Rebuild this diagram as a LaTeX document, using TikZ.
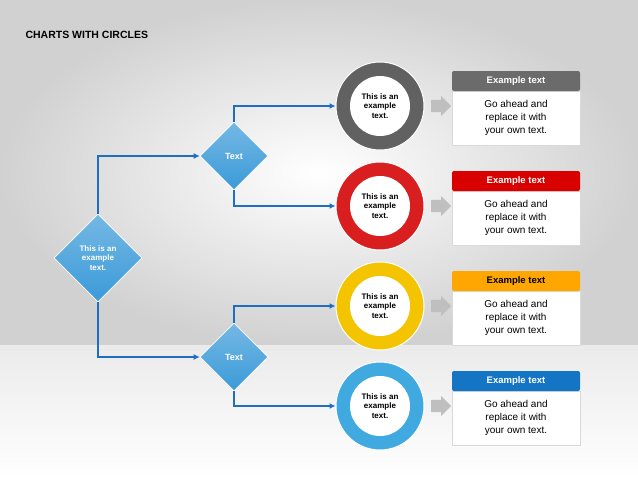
\documentclass[tikz,border=0pt]{standalone}
\usepackage{fontspec}
\setmainfont{Liberation Sans}
\usetikzlibrary{shapes.geometric, shapes.arrows, arrows.meta}

\definecolor{flowblue}{HTML}{1F6FC0}
\definecolor{diablue}{HTML}{3A9AD8}
\definecolor{ringgray}{HTML}{616161}
\definecolor{ringred}{HTML}{D81E1E}
\definecolor{ringyellow}{HTML}{F5C400}
\definecolor{ringblue}{HTML}{3FA9E0}

\tikzset{
  dia/.style={diamond, aspect=1, inner sep=0pt, minimum size=#1,
    top color=diablue!70, bottom color=diablue, draw=white, line width=0.6pt,
    text=white, font=\bfseries\fontsize{8}{9.5}\selectfont, align=center},
  flow/.style={flowblue, line width=1.6pt, -{Latex[length=6pt,width=6pt]}},
  ring/.style={circle, minimum size=88pt, draw=white, line width=1pt, fill=#1},
  hole/.style={circle, minimum size=60pt, fill=white, inner sep=0pt,
    font=\bfseries\fontsize{8}{9.5}\selectfont, align=center},
  pointer/.style={single arrow, fill=black!25, minimum height=20pt, minimum width=20pt,
    single arrow head extend=2pt, inner sep=3pt},
  head/.style={fill=#1, minimum width=128pt, minimum height=20pt, rounded corners=2pt,
    font=\bfseries\fontsize{9.5}{11}\selectfont, text=white, inner sep=0pt},
  body/.style={fill=white, draw=black!15, minimum width=128pt, minimum height=54pt,
    font=\fontsize{10}{13}\selectfont, align=center, inner sep=0pt},
}

\begin{document}
\begin{tikzpicture}[x=1pt, y=-1pt]
  \useasboundingbox (0,0) rectangle (638,479);
  % background
  \shade[inner color=white, outer color=black!18] (0,0) rectangle (638,345);
  \shade[top color=black!8, bottom color=white] (0,345) rectangle (638,479);
  \node[anchor=west, font=\bfseries\fontsize{10.5}{12}\selectfont] (title) at (22,35) {CHARTS WITH CIRCLES};

  % diamonds
  \node[dia=88pt] (main) at (98,258) {This is an\\example\\text.};
  \node[dia=68pt, font=\bfseries\fontsize{9}{10}\selectfont] (up) at (234,156) {Text};
  \node[dia=68pt, font=\bfseries\fontsize{9}{10}\selectfont] (low) at (234,357) {Text};

  % rings
  \foreach \i/\c/\y in {1/ringgray/106, 2/ringred/206, 3/ringyellow/306, 4/ringblue/406} {
    \node[ring=\c] (ring\i) at (380,\y) {};
    \node[hole] (txt\i) at (ring\i) {This is an\\example\\text.};
    \node[pointer] (arr\i) at (438,\y) {};
    \node[body] (box\i) at (516,\y+12) {Go ahead and\\replace it with\\your own text.};
  }
  \node[head=black!58] (head1) at (516,81) {Example text};
  \node[head=red!85!black] (head2) at (516,181) {Example text};
  \node[head=orange!70!yellow, text=black] (head3) at (516,281) {Example text};
  \node[head=cyan!55!blue] (head4) at (516,381) {Example text};

  % connectors
  \draw[flow] (main.north) |- (up.west);
  \draw[flow] (main.south) |- (low.west);
  \draw[flow] (up.north) |- (ring1.west);
  \draw[flow] (up.south) |- (ring2.west);
  \draw[flow] (low.north) |- (ring3.west);
  \draw[flow] (low.south) |- (ring4.west);
\end{tikzpicture}
\end{document}
